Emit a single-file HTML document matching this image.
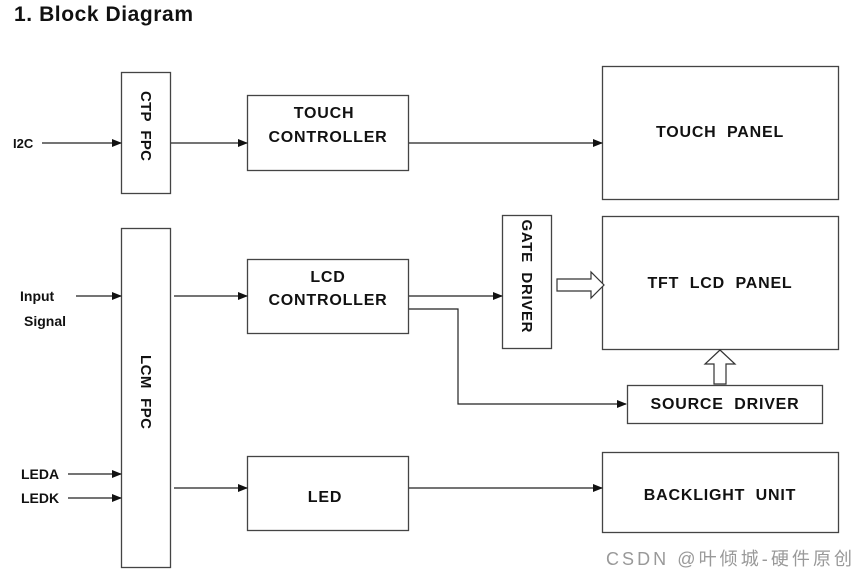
<!DOCTYPE html>
<html><head><meta charset="utf-8"><style>
html,body{margin:0;padding:0;background:#fff;width:865px;height:578px;overflow:hidden}
svg text{font-family:"Liberation Sans",Arial,sans-serif;font-weight:bold;fill:#111;white-space:pre}
</style></head><body>
<svg width="865" height="578" viewBox="0 0 865 578" xmlns="http://www.w3.org/2000/svg" xml:space="preserve">
<defs><marker id="a" markerWidth="10" markerHeight="8" refX="9" refY="4" orient="auto" markerUnits="userSpaceOnUse"><path d="M0,0 L10,4 L0,8 z" fill="#111"/></marker></defs>
<text x="14" y="21" font-size="21" textLength="179">1. Block Diagram</text>
<g fill="none" stroke="#444" stroke-width="1.3">
<rect x="121.5" y="72.5" width="49" height="121"/>
<rect x="247.5" y="95.5" width="161" height="75"/>
<rect x="602.5" y="66.5" width="236" height="133"/>
<rect x="121.5" y="228.5" width="49" height="339"/>
<rect x="247.5" y="259.5" width="161" height="74"/>
<rect x="502.5" y="215.5" width="49" height="133"/>
<rect x="602.5" y="216.5" width="236" height="133"/>
<rect x="627.5" y="385.5" width="195" height="38"/>
<rect x="247.5" y="456.5" width="161" height="74"/>
<rect x="602.5" y="452.5" width="236" height="80"/>
</g>
<g stroke="#222" stroke-width="1.2" fill="none" marker-end="url(#a)">
<line x1="42" y1="143" x2="121" y2="143"/>
<line x1="171" y1="143" x2="247" y2="143"/>
<line x1="409" y1="143" x2="602" y2="143"/>
<line x1="76" y1="296" x2="121" y2="296"/>
<line x1="174" y1="296" x2="247" y2="296"/>
<line x1="409" y1="296" x2="502" y2="296"/>
<polyline points="409,309 458,309 458,404 626,404"/>
<line x1="68" y1="474" x2="121" y2="474"/>
<line x1="68" y1="498" x2="121" y2="498"/>
<line x1="174" y1="488" x2="247" y2="488"/>
<line x1="409" y1="488" x2="602" y2="488"/>
</g>
<path d="M557,279 H591 V272 L604,285 L591,298 V291 H557 Z" fill="#fff" stroke="#333" stroke-width="1.2"/>
<path d="M714,384 V364 H705 L720,350 L735,364 H726 V384 Z" fill="#fff" stroke="#333" stroke-width="1.2"/>
<g font-size="16" letter-spacing="0.8">
<text x="13" y="148" font-size="13" letter-spacing="0">I2C</text>
<text x="324" y="118" text-anchor="middle">TOUCH</text>
<text x="328" y="142" text-anchor="middle">CONTROLLER</text>
<text x="720" y="137" text-anchor="middle">TOUCH  PANEL</text>
<text x="328" y="282" text-anchor="middle">LCD</text>
<text x="328" y="305" text-anchor="middle">CONTROLLER</text>
<text x="720" y="288" text-anchor="middle">TFT  LCD  PANEL</text>
<text x="725" y="409" text-anchor="middle">SOURCE  DRIVER</text>
<text x="325" y="502" text-anchor="middle">LED</text>
<text x="720" y="500" text-anchor="middle">BACKLIGHT  UNIT</text>
</g>
<g font-size="15">
<text x="140" y="137" text-anchor="middle" textLength="70" transform="rotate(90 146 132)">CTP  FPC</text>
<text x="140" y="403" text-anchor="middle" textLength="74" transform="rotate(90 146 398)">LCM  FPC</text>
<text x="521" y="287" text-anchor="middle" textLength="113" transform="rotate(90 527 282)">GATE  DRIVER</text>
</g>
<g font-size="14">
<text x="20" y="301">Input</text>
<text x="24" y="326">Signal</text>
<text x="21" y="479">LEDA</text>
<text x="21" y="503">LEDK</text>
</g>
<text x="606" y="565" font-size="18" textLength="246" style="font-weight:normal;fill:#999;font-family:'Liberation Sans','Noto Sans CJK SC',sans-serif">CSDN @叶倾城-硬件原创</text>
</svg>
</body></html>
